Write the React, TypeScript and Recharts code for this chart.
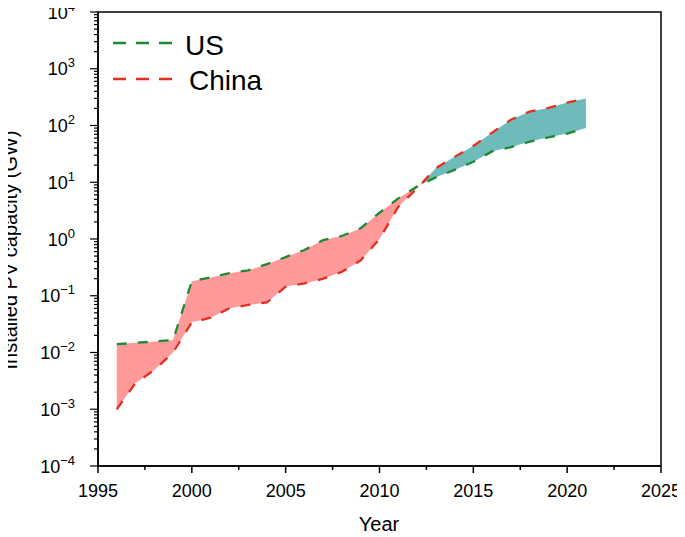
import React from "react";
import {
  ComposedChart,
  Line,
  Area,
  XAxis,
  YAxis,
  ReferenceArea,
  Legend,
} from "recharts";

const years = [
  1996, 1997, 1998, 1999, 2000, 2001, 2002, 2003, 2004, 2005, 2006, 2007, 2008,
  2009, 2010, 2011, 2012, 2013, 2014, 2015, 2016, 2017, 2018, 2019, 2020, 2021,
];

// cumulative installed PV capacity, GW
const usCapacity = [
  0.014, 0.0148, 0.0156, 0.0166, 0.18, 0.21, 0.25, 0.28, 0.36, 0.48, 0.64, 0.96,
  1.13, 1.55, 2.9, 5.2, 8.4, 12.2, 16.5, 23, 35, 41.5, 52, 62, 72, 90,
];

const chinaCapacity = [
  0.001, 0.0029, 0.0049, 0.01, 0.034, 0.041, 0.06, 0.069, 0.076, 0.145, 0.165,
  0.2, 0.265, 0.42, 1.0, 3.7, 7.8, 17.7, 28, 43.5, 75, 126, 176, 204, 253, 300,
];

const xTicks = [
  1995, 1997.5, 2000, 2002.5, 2005, 2007.5, 2010, 2012.5, 2015, 2017.5, 2020,
  2022.5, 2025,
];

const yTicks: number[] = [];
for (let e = -4; e < 4; e++) {
  for (let m = 1; m <= 9; m++) yTicks.push(Number(`${m}e${e}`));
}
yTicks.push(1e4);

const GREEN = "#1d8a35";
const RED = "#e3301f";
const PINK = "#ff999a";
const TEAL = "#6fbbbb";
const FONT = "'Liberation Sans', Arial, sans-serif";

const data = years.map((year, i) => ({
  year,
  us: usCapacity[i],
  china: chinaCapacity[i],
}));

// where the two curves cross (log space), as a fraction of the x span of the band
const crossOffset = (() => {
  for (let i = 0; i < years.length - 1; i++) {
    const d0 = Math.log10(usCapacity[i]) - Math.log10(chinaCapacity[i]);
    const d1 = Math.log10(usCapacity[i + 1]) - Math.log10(chinaCapacity[i + 1]);
    if (d0 > 0 && d1 <= 0) {
      const t = d0 / (d0 - d1);
      const xc = years[i] + t * (years[i + 1] - years[i]);
      return (xc - years[0]) / (years[years.length - 1] - years[0]);
    }
  }
  return 1;
})();

const XTick = (props: any) => {
  const { x, y, payload } = props;
  const major = payload.value % 5 === 0;
  return (
    <g>
      <line x1={x} x2={x} y1={y} y2={y + (major ? 7 : 4)} stroke="#000" strokeWidth={1.5} />
      {major && (
        <text x={x} y={y + 31} textAnchor="middle" fontSize={18} fontFamily={FONT} fill="#000">
          {payload.value}
        </text>
      )}
    </g>
  );
};

const YTick = (props: any) => {
  const { x, y, payload } = props;
  const lg = Math.log10(payload.value);
  const major = Math.abs(lg - Math.round(lg)) < 1e-9;
  const exp = Math.round(lg);
  return (
    <g>
      <line x1={x} x2={x - (major ? 8 : 4)} y1={y} y2={y} stroke="#000" strokeWidth={1.2} />
      {major && (
        <text x={x - 23} y={y + 6.5} textAnchor="end" fontSize={18} fontFamily={FONT} fill="#000">
          10
          <tspan dy={-8} fontSize={13}>
            {exp < 0 ? `\u2212${-exp}` : `${exp}`}
          </tspan>
        </text>
      )}
    </g>
  );
};

const LegendBox = () => (
  <svg width={200} height={90} style={{ display: "block" }}>
    <line x1={8} x2={67} y1={16} y2={16} stroke={GREEN} strokeWidth={2.5} strokeDasharray="13 10" />
    <text x={80} y={28} fontSize={28} fontFamily={FONT} fill="#000">
      US
    </text>
    <line x1={8} x2={67} y1={52} y2={52} stroke={RED} strokeWidth={2.5} strokeDasharray="13 10" />
    <text x={84} y={63} fontSize={28} fontFamily={FONT} fill="#000">
      China
    </text>
  </svg>
);

export default function App() {
  return (
    <div style={{ margin: "-8px 0 0 -8px" }}>
      <ComposedChart
        width={685}
        height={537}
        data={data}
        margin={{ top: 12, right: 24, bottom: 0, left: 0 }}
      >
        <defs>
          <linearGradient id="gapFill" x1="0" y1="0" x2="1" y2="0">
            <stop offset={0} stopColor={PINK} />
            <stop offset={crossOffset} stopColor={PINK} />
            <stop offset={crossOffset} stopColor={TEAL} />
            <stop offset={1} stopColor={TEAL} />
          </linearGradient>
        </defs>
        <XAxis
          dataKey="year"
          type="number"
          domain={[1995, 2025]}
          ticks={xTicks}
          interval={0}
          height={71}
          tickSize={0}
          tickMargin={0}
          tickLine={false}
          tick={<XTick />}
          axisLine={{ stroke: "#000", strokeWidth: 1.5 }}
          label={{
            content: () => (
              <text x={379} y={531} textAnchor="middle" fontSize={20} fontFamily={FONT} fill="#000">
                Year
              </text>
            ),
          }}
        />
        <YAxis
          scale="log"
          domain={[1e-4, 1e4]}
          allowDataOverflow
          ticks={yTicks}
          interval={0}
          width={98}
          tickSize={0}
          tickMargin={0}
          tickLine={false}
          tick={<YTick />}
          axisLine={{ stroke: "#000", strokeWidth: 1.5 }}
          label={{
            content: () => (
              <text
                x={17}
                y={250}
                transform="rotate(-90 17 250)"
                textAnchor="middle"
                fontSize={20}
                fontFamily={FONT}
                fill="#000"
              >
                Installed PV capacity (GW)
              </text>
            ),
          }}
        />
        <ReferenceArea
          x1={1995}
          x2={2025}
          y1={1e-4}
          y2={1e4}
          fill="none"
          fillOpacity={0}
          stroke="#000"
          strokeWidth={1.5}
          ifOverflow="visible"
        />
        <Area
          dataKey={(d: any) => [d.china, d.us]}
          type="linear"
          stroke="none"
          fill="url(#gapFill)"
          fillOpacity={1}
          isAnimationActive={false}
          legendType="none"
          activeDot={false}
        />
        <Line
          dataKey="china"
          type="linear"
          stroke={RED}
          strokeWidth={2.3}
          strokeDasharray="10 11"
          dot={false}
          activeDot={false}
          isAnimationActive={false}
        />
        <Line
          dataKey="us"
          type="linear"
          stroke={GREEN}
          strokeWidth={2.3}
          strokeDasharray="10 11"
          dot={false}
          activeDot={false}
          isAnimationActive={false}
        />
        <Legend
          layout="horizontal"
          verticalAlign="middle"
          align="center"
          wrapperStyle={{ top: 27, left: 105, width: 200, height: 90 }}
          content={() => <LegendBox />}
        />
      </ComposedChart>
    </div>
  );
}
